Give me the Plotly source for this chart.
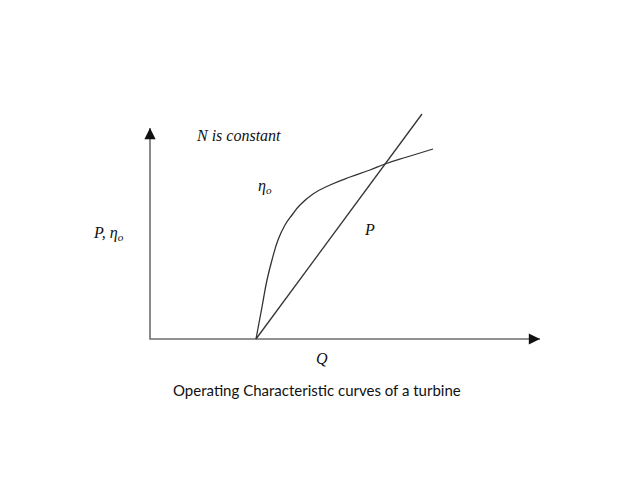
import plotly.graph_objects as go

# flow Q against efficiency and power, in picture units from the origin
q_eff = [106, 112, 117, 122, 128, 135, 142, 150, 163, 180, 200, 220, 235, 257, 283]
eta = [0, 32, 59, 79, 99, 114, 124, 134, 145, 154, 162, 169, 175, 182, 190]

q_pow = [106, 272]
power = [0, 225]

x_axis_end = 390
y_axis_end = 211

serif = "Liberation Serif"
curve_col = "#333333"
axis_col = "#6e6e6e"

fig = go.Figure()

fig.add_trace(go.Scatter(x=[0, 0, x_axis_end], y=[y_axis_end, 0, 0], mode="lines",
                         line=dict(color=axis_col, width=1.6), hoverinfo="skip"))
fig.add_trace(go.Scatter(x=q_eff, y=eta, mode="lines",
                         line=dict(color=curve_col, width=1.3, shape="spline", smoothing=1.3),
                         name="eta"))
fig.add_trace(go.Scatter(x=q_pow, y=power, mode="lines",
                         line=dict(color=curve_col, width=1.3), name="P"))

# arrow heads
fig.add_annotation(x=0, y=y_axis_end, ax=0, ay=y_axis_end - 8, xref="x", yref="y",
                   axref="x", ayref="y", showarrow=True, arrowhead=2, arrowsize=1.4,
                   arrowwidth=1.6, arrowcolor="#111111", text="")
fig.add_annotation(x=x_axis_end, y=0, ax=x_axis_end - 8, ay=0, xref="x", yref="y",
                   axref="x", ayref="y", showarrow=True, arrowhead=2, arrowsize=1.4,
                   arrowwidth=1.6, arrowcolor="#111111", text="")

labels = [
    (88, 204, "<i>N is constant</i>", 16),
    (115, 153, "<i>η<sub>o</sub></i>", 16),
    (-42, 106, "<i>P, η<sub>o</sub></i>", 16),
    (219, 110, "<i>P</i>", 16),
    (172, -19, "<i>Q</i>", 16),
]
for x, y, t, s in labels:
    fig.add_annotation(x=x, y=y, text=t, showarrow=False,
                       font=dict(family=serif, size=s, color="#111111"))

fig.add_annotation(x=167, y=-51, text="Operating Characteristic curves of a turbine",
                   showarrow=False, font=dict(family="Lato", size=15, color="#111111"))

fig.update_xaxes(range=[-142, 496], visible=False, fixedrange=True)
fig.update_yaxes(range=[-147, 331], visible=False, fixedrange=True)
fig.update_layout(width=638, height=478, margin=dict(l=0, r=0, t=0, b=0),
                  showlegend=False, plot_bgcolor="white", paper_bgcolor="white")

fig.write_html("out.html")
